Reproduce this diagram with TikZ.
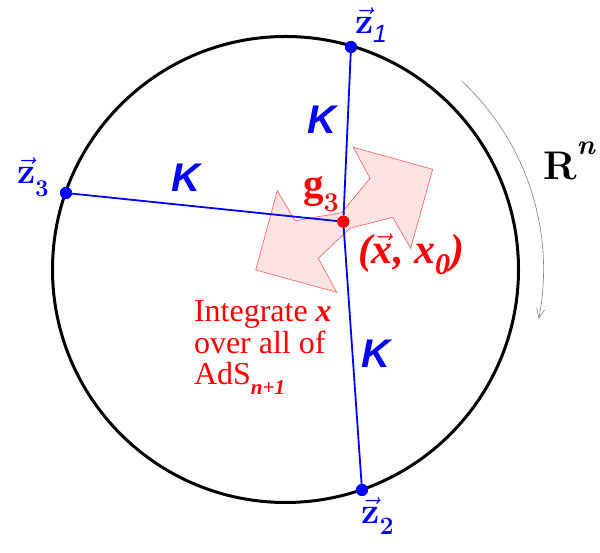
\documentclass[tikz,border=0pt]{standalone}
\usepackage{fontspec}
\usetikzlibrary{arrows.meta}
\newfontfamily\tms{Liberation Serif}
\newfontfamily\hlv{Liberation Sans}
\definecolor{pinkfill}{RGB}{255,226,226}
\definecolor{pinkline}{RGB}{255,90,90}
\newcommand{\vecz}{\scalebox{1.4}{\fontsize{24.88}{25}\selectfont$\vec{\hbox{\bfseries\fontsize{26}{26}\selectfont z}}$}}
\newcommand{\vecx}{\scalebox{1.45}{\fontsize{24.88}{25}\selectfont$\vec{\hbox{\tms\bfseries\itshape\fontsize{29}{29}\selectfont x}}$}}
\tikzset{
  txt/.style={inner sep=0pt, outer sep=0pt, anchor=base west},
  bdot/.style={circle, fill=blue, inner sep=0pt, minimum size=12pt},
  rdot/.style={circle, fill=red, inner sep=0pt, minimum size=12pt},
  kline/.style={blue, line width=1.8pt},
  klab/.style={txt, text=blue, font=\hlv\bfseries\itshape\fontsize{40}{40}\selectfont},
  zlab/.style={txt, text=blue},
  redlab/.style={txt, text=red},
  arrowshape/.style={fill=pinkfill, draw=pinkline, line width=0.6pt, line join=miter},
}
\begin{document}
\begin{tikzpicture}[x=1pt, y=1pt]
\useasboundingbox (0,0) rectangle (600,553);
% boundary circle
\node[circle, draw, line width=3pt, minimum size=466pt, inner sep=0pt] (bulk) at (285.5,283.5) {};
% R^n arrow
\draw[gray, line width=0.6pt, -{Straight Barb[length=9pt,width=8pt]}]
  (bulk.center) ++(47:258) arc[start angle=47, end angle=-11, radius=258];
% pink double arrow shape
\draw[arrowshape] (341.7,340.3) -- (370,374.7) -- (353.3,405.7) -- (432.7,383.7)
  -- (410.7,304.7) -- (392.7,335.7) -- (350,324.7) -- (318.3,294.7) -- (336.7,260.7)
  -- (255.7,283) -- (277.3,362.3) -- (295,332.3) -- cycle;
% points
\node[bdot] (z1) at (351,506) {};
\node[bdot] (z2) at (362,63) {};
\node[bdot] (z3) at (66,360) {};
\node[rdot] (x) at (343.3,331.3) {};
% propagators
\draw[kline] (z1) -- (x);
\draw[kline] (z2) -- (x);
\draw[kline] (z3) -- (x);
\node[bdot] at (z1) {};
\node[bdot] at (z2) {};
\node[bdot] at (z3) {};
\node[rdot] at (x) {};
% K labels
\node[klab] (k1) at (307,419) {K};
\node[klab] (k3) at (171.7,361.3) {K};
\node[klab] (k2) at (361.7,185.7) {K};
% z labels
\node[zlab] (lz1) at (355,519.5) {\vecz\raisebox{-9pt}{\hlv\itshape\fontsize{25}{25}\selectfont 1}};
\node[zlab] (lz3) at (17,369.7) {\vecz\raisebox{-13pt}{\bfseries\fontsize{24}{24}\selectfont 3}};
\node[zlab] (lz2) at (361.5,29.7) {\vecz\raisebox{-11pt}{\bfseries\fontsize{25}{25}\selectfont 2}};
% g3
\node[redlab] (g3) at (303,355) {{\tms\bfseries\fontsize{41}{41}\selectfont g}\raisebox{-14pt}{\bfseries\fontsize{27}{27}\selectfont 3}};
% (x, x0)
\node[redlab, font=\tms\bfseries\itshape\fontsize{42}{42}\selectfont] (xl) at (358,289.7)
  {(\vecx, x\raisebox{-11.5pt}{\fontsize{30}{30}\selectfont 0})};
% R^n
\node[txt] (rn) at (543,373) {{\fontsize{40}{40}\selectfont\bfseries R}\raisebox{25pt}{\fontsize{28}{28}\selectfont\bfseries\itshape n}};
% integrate text
\node[redlab, font=\tms\fontsize{32}{30}\selectfont] (int) at (194,231.3)
  {\begin{tabular}[t]{@{}l@{}}Integrate {\bfseries\itshape x}\\over all of\\AdS\raisebox{-10pt}{\fontsize{21}{21}\selectfont\bfseries\itshape n+1}\end{tabular}};
\end{tikzpicture}
\end{document}
